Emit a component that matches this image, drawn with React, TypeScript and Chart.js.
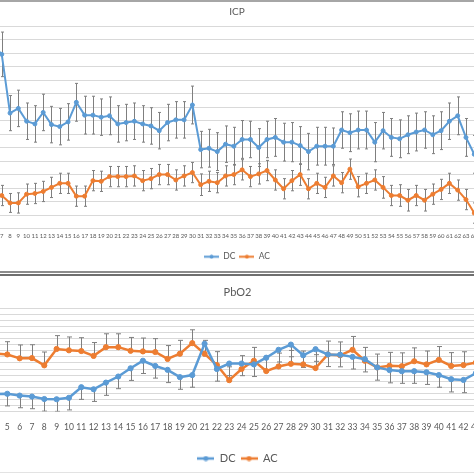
import React, { useEffect, useRef } from 'react';
import { Chart, registerables } from 'chart.js';

Chart.register(...registerables);

const FONT = 'Lato, "Open Sans", sans-serif';
const TEXT = '#595959';
const GRID = '#d9d9d9';
const BLUE = '#5b9bd5';
const ORANGE = '#ed7d31';
const ERR = '#7f7f7f';

// ---------- ICP (top chart), categories 6..64 ----------
const icpLabels = [
  '6', '7', '8', '9', '10', '11', '12', '13', '14', '15',
  '16', '17', '18', '19', '20', '21', '22', '23', '24', '25',
  '26', '27', '28', '29', '30', '31', '32', '33', '34', '35',
  '36', '37', '38', '39', '40', '41', '42', '43', '44', '45',
  '46', '47', '48', '49', '50', '51', '52', '53', '54', '55',
  '56', '57', '58', '59', '60', '61', '62', '63', '64',
];
const icpDC = [
  27.2, 25.8, 17.1, 17.8, 15.9, 15.5, 17.2, 15.4, 15.1, 15.8,
  18.7, 16.8, 16.8, 16.5, 16.7, 15.5, 15.7, 15.9, 15.5, 15.2,
  14.5, 15.7, 16.1, 16.1, 18.3, 11.7, 11.9, 11.4, 12.5, 12.2,
  13.2, 13.2, 12.0, 13.2, 13.5, 12.8, 12.8, 12.3, 11.4, 12.2,
  12.2, 12.2, 14.6, 14.2, 14.6, 14.6, 12.8, 14.5, 13.5, 13.3,
  13.9, 14.3, 14.6, 13.9, 14.5, 15.9, 16.7, 13.5, 11.0,
];
const icpAC = [
  5.2, 4.9, 3.8, 3.8, 5.1, 5.2, 5.5, 6.1, 6.7, 6.7,
  4.8, 4.8, 7.1, 7.0, 7.7, 7.7, 7.7, 7.8, 7.1, 7.4,
  8.0, 8.0, 7.2, 7.8, 8.3, 6.5, 7.0, 6.8, 7.8, 8.0,
  8.7, 7.7, 8.1, 8.6, 7.2, 5.9, 7.1, 8.0, 5.9, 6.7,
  6.1, 7.8, 6.8, 8.8, 6.2, 6.7, 7.2, 6.1, 4.9, 4.9,
  4.2, 4.9, 4.2, 5.1, 5.8, 6.7, 5.7, 4.3, 2.3,
];
const icpDCErr = [
  3.3, 3.3, 2.6, 2.7, 2.7, 2.7, 2.7, 2.7, 2.7, 2.7,
  2.8, 2.8, 2.8, 2.7, 2.8, 2.7, 2.7, 2.7, 2.7, 2.7,
  2.7, 2.7, 2.7, 2.7, 2.8, 2.7, 2.8, 2.8, 2.7, 2.8,
  2.8, 2.7, 2.8, 2.7, 2.8, 2.8, 2.9, 2.8, 2.7, 2.8,
  2.8, 2.7, 2.7, 2.8, 2.8, 2.8, 2.9, 2.7, 2.8, 2.8,
  2.8, 2.8, 2.7, 2.8, 2.8, 2.7, 2.8, 2.8, 2.8,
];
const icpACErr = [
  1.5, 1.5, 1.4, 1.5, 1.5, 1.5, 1.5, 1.5, 1.5, 1.5,
  1.5, 1.5, 1.5, 1.5, 1.5, 1.5, 1.5, 1.5, 1.5, 1.5,
  1.5, 1.5, 1.5, 1.5, 1.5, 1.6, 1.5, 1.5, 1.5, 1.5,
  1.5, 1.5, 1.5, 1.5, 1.5, 1.5, 1.5, 1.6, 1.5, 1.5,
  1.5, 1.5, 1.5, 1.5, 1.5, 1.5, 1.5, 1.6, 1.5, 1.6,
  1.6, 1.5, 1.6, 1.5, 1.5, 1.5, 1.5, 1.5, 1.5,
];

// ---------- PbO2 (bottom chart), categories 4..43 ----------
const pbLabels = [
  '4', '5', '6', '7', '8', '9', '10', '11', '12', '13',
  '14', '15', '16', '17', '18', '19', '20', '21', '22', '23',
  '24', '25', '26', '27', '28', '29', '30', '31', '32', '33',
  '34', '35', '36', '37', '38', '39', '40', '41', '42', '43',
];
const pbDC = [
  14.5, 14.6, 13.1, 12.3, 10.3, 10.1, 11.3, 20.0, 18.3, 23.8,
  28.8, 35.6, 41.8, 37.5, 34.3, 28.3, 30.0, 55.8, 35.0, 39.5,
  39.5, 38.8, 44.3, 50.8, 55.1, 46.3, 51.3, 47.0, 46.8, 45.0,
  43.1, 36.3, 34.1, 33.2, 33.2, 32.3, 30.0, 26.6, 26.0, 31.5,
];
const pbAC = [
  47.8, 47.0, 43.8, 44.0, 38.0, 51.5, 50.4, 49.8, 45.8, 53.0,
  53.0, 50.0, 49.5, 49.0, 43.3, 47.6, 56.3, 47.6, 38.3, 25.8,
  35.0, 41.8, 33.3, 37.1, 39.3, 38.8, 35.8, 47.0, 46.3, 50.8,
  41.8, 36.3, 37.7, 37.3, 41.4, 38.8, 42.5, 37.5, 38.2, 40.3,
];
const pbDCErr = [
  10, 10, 10, 10, 10, 10, 10, 10, 10, 10.5,
  10, 10, 10.5, 10, 10.5, 10, 10, 10, 10, 10,
  10, 10, 10, 10, 10, 10, 10, 10, 10, 10,
  10.5, 10.5, 10.5, 10, 10, 10, 10, 10.5, 10.5, 10,
];
const pbACErr = [
  11, 10.5, 11, 11, 11, 11, 11, 11, 11, 11,
  11, 11, 11, 11, 11, 11, 11, 11, 11, 11,
  11, 11, 11, 11, 11, 11, 11, 11, 11, 11,
  11, 11, 11, 11, 11, 11, 11, 11, 11, 11,
];

function legendIcon(color: string, w: number, h: number, lw: number, r: number) {
  const c = document.createElement('canvas');
  c.width = w;
  c.height = h;
  const g = c.getContext('2d')!;
  g.strokeStyle = color;
  g.lineWidth = lw;
  g.beginPath();
  g.moveTo(0, h / 2);
  g.lineTo(w, h / 2);
  g.stroke();
  g.fillStyle = color;
  g.beginPath();
  g.arc(w / 2, h / 2, r, 0, Math.PI * 2);
  g.fill();
  return c;
}

const errorBars = {
  id: 'errorBars',
  beforeDatasetsDraw(chart: any, _args: any, opts: any) {
    const { ctx, chartArea } = chart;
    const ys = chart.scales.y;
    ctx.save();
    ctx.beginPath();
    ctx.rect(chartArea.left, chartArea.top, chartArea.right - chartArea.left, chartArea.bottom - chartArea.top);
    ctx.clip();
    ctx.strokeStyle = opts.color;
    ctx.lineWidth = opts.width;
    chart.data.datasets.forEach((ds: any, i: number) => {
      const meta = chart.getDatasetMeta(i);
      meta.data.forEach((pt: any, j: number) => {
        const v = ds.data[j];
        if (v == null) return;
        const up = ds.errPlus ? ds.errPlus[j] : 0;
        const dn = ds.errMinus ? ds.errMinus[j] : 0;
        const yt = ys.getPixelForValue(v + up);
        const yb = ys.getPixelForValue(v - dn);
        const x = Math.round(pt.x) + 0.5;
        ctx.beginPath();
        ctx.moveTo(x, yt);
        ctx.lineTo(x, yb);
        if (up) {
          ctx.moveTo(x - opts.cap, yt);
          ctx.lineTo(x + opts.cap, yt);
        }
        if (dn) {
          ctx.moveTo(x - opts.cap, yb);
          ctx.lineTo(x + opts.cap, yb);
        }
        ctx.stroke();
      });
    });
    ctx.restore();
  },
};

function makeConfig(p: any): any {
  const icons = [
    legendIcon(BLUE, p.iconW, p.iconH, p.iconLw, p.iconR),
    legendIcon(ORANGE, p.iconW, p.iconH, p.iconLw, p.iconR),
  ];
  const series = (label: string, data: number[], color: string, plus: number[] | null, minus: number[] | null) => ({
    label,
    data,
    errPlus: plus,
    errMinus: minus,
    borderColor: color,
    backgroundColor: color,
    borderWidth: p.lineW,
    pointRadius: p.pointR,
    pointBorderWidth: 1,
    pointBackgroundColor: color,
    pointBorderColor: color,
    tension: 0,
    fill: false,
  });
  return {
    type: 'line',
    data: {
      labels: p.labels,
      datasets: [
        series('DC', p.dc, BLUE, p.dcPlus, p.dcMinus),
        series('AC', p.ac, ORANGE, p.acPlus, p.acMinus),
      ],
    },
    plugins: [errorBars],
    options: {
      responsive: false,
      animation: false,
      devicePixelRatio: 1,
      events: [],
      layout: { padding: { left: p.padL, right: p.padR, top: 0, bottom: 0 } },
      scales: {
        x: {
          type: 'category',
          offset: true,
          grid: { display: false, drawTicks: false },
          border: { display: false },
          ticks: {
            autoSkip: false,
            maxRotation: 0,
            minRotation: 0,
            padding: p.tickPad,
            color: TEXT,
            font: { family: FONT, size: p.tickSize },
          },
          title: { display: true, text: '', font: { size: 1 }, padding: { top: p.xTitlePad, bottom: 0 } },
        },
        y: {
          position: 'right',
          min: p.yMin,
          max: p.yMax,
          ticks: { display: false, stepSize: p.yStep },
          grid: { color: GRID, lineWidth: 1, drawTicks: true, tickLength: p.yTick, tickColor: 'rgba(0,0,0,0)' },
          border: { display: false },
        },
      },
      plugins: {
        title: {
          display: true,
          text: p.title,
          color: TEXT,
          font: { family: FONT, size: p.titleSize, weight: 'normal' },
          padding: { top: p.titleTop, bottom: p.titleBottom },
        },
        legend: {
          position: 'bottom',
          labels: {
            usePointStyle: true,
            pointStyleWidth: p.iconW,
            padding: p.legendPad,
            color: TEXT,
            font: { family: FONT, size: p.legendSize },
            generateLabels: (chart: any) => {
              const items = (Chart.defaults as any).plugins.legend.labels.generateLabels(chart);
              return items.map((it: any, i: number) => ({ ...it, pointStyle: icons[i], fontColor: TEXT }));
            },
          },
        },
        tooltip: { enabled: false },
        errorBars: { color: ERR, width: 1, cap: p.cap },
      },
    },
  };
}

function ChartCanvas({ config, left, top, width, height }: any) {
  const ref = useRef<HTMLCanvasElement>(null);
  useEffect(() => {
    const chart = new Chart(ref.current!, config);
    return () => chart.destroy();
  }, []);
  return (
    <canvas
      ref={ref}
      width={width}
      height={height}
      style={{ position: 'absolute', left, top, width, height }}
    />
  );
}

export default function App() {
  const topCfg = makeConfig({
    labels: icpLabels, dc: icpDC, ac: icpAC,
    dcPlus: icpDCErr, dcMinus: icpDCErr, acPlus: icpACErr, acMinus: icpACErr,
    lineW: 2, pointR: 2, cap: 1.5,
    padL: 19.3, padR: 19.3, yTick: 6.3,
    tickPad: 3.9, tickSize: 6, xTitlePad: 3.7,
    yMin: 0, yMax: 30, yStep: 2,
    title: 'ICP', titleSize: 10, titleTop: 6, titleBottom: 8,
    legendPad: 4, legendSize: 8.5,
    iconW: 15, iconH: 5, iconLw: 2, iconR: 2,
  });
  const botCfg = makeConfig({
    labels: pbLabels, dc: pbDC, ac: pbAC,
    dcPlus: null, dcMinus: pbDCErr, acPlus: pbACErr, acMinus: null,
    lineW: 2.5, pointR: 2.6, cap: 2.5,
    padL: 18.8, padR: 19.8, yTick: 4.2,
    tickPad: 10.2, tickSize: 8.5, xTitlePad: 4.7,
    yMin: 0, yMax: 85, yStep: 5,
    title: 'PbO2', titleSize: 11, titleTop: 9.4, titleBottom: 9.7,
    legendPad: 5, legendSize: 11,
    iconW: 17, iconH: 6, iconLw: 2.5, iconR: 2.5,
  });
  return (
    <div style={{ position: 'fixed', left: 0, top: 0, width: 474, height: 474, overflow: 'hidden', background: '#fff' }}>
      <ChartCanvas config={topCfg} left={-30} top={0} width={534} height={271} />
      <ChartCanvas config={botCfg} left={-30} top={276} width={536} height={198} />
      <div style={{ position: 'absolute', left: 0, top: 0, width: 474, height: 2, background: '#a6a6a6' }} />
      <div style={{ position: 'absolute', left: 0, top: 271, width: 474, height: 2, background: '#8c8c8c' }} />
      <div style={{ position: 'absolute', left: 0, top: 274, width: 474, height: 2, background: '#6f6f6f' }} />
      <div style={{ position: 'absolute', left: 0, top: 472, width: 474, height: 1, background: '#e3e3e3' }} />
    </div>
  );
}
